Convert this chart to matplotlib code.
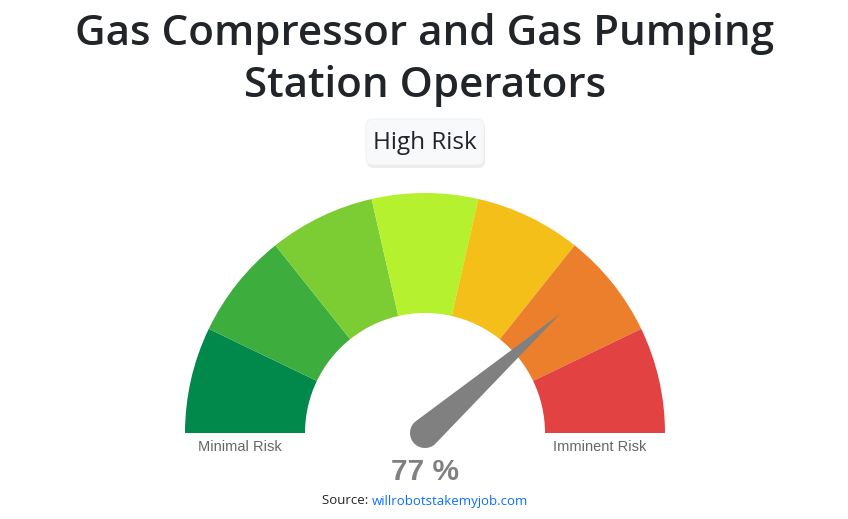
import numpy as np
import matplotlib.pyplot as plt
from matplotlib.patches import Wedge, Polygon, FancyBboxPatch

title = "Gas Compressor and Gas Pumping\nStation Operators"
badge = "High Risk"
value = 77
segment_colors = ['#00894a', '#3dae3d', '#7bcd33', '#b5f12e', '#f5bf19', '#ec7f2c', '#e34242']
end_labels = ['Minimal Risk', 'Imminent Risk']

W, H = 848, 519
fig = plt.figure(figsize=(W / 100, H / 100), dpi=100)
ax = fig.add_axes([0, 0, 1, 1])
ax.set_xlim(0, W)
ax.set_ylim(0, H)
ax.axis('off')

def Y(y):
    # image pixel row -> data y
    return H - y

cx, cy = 425, Y(433)
r_out, r_in = 240, 120

# gauge segments
n = len(segment_colors)
step = 180 / n
for i, c in enumerate(segment_colors):
    a2 = 180 - i * step
    a1 = a2 - step
    ax.add_patch(Wedge((cx, cy), r_out, a1, a2, width=r_out - r_in, facecolor=c, edgecolor='none'))

# needle
ang = np.radians(180 - value / 100 * 180)
length, base_r = 180, 15
tip = (cx + length * np.cos(ang), cy + length * np.sin(ang))
back = np.linspace(ang + np.pi / 2, ang + 3 * np.pi / 2, 30)
pts = [tip] + [(cx + base_r * np.cos(t), cy + base_r * np.sin(t)) for t in back]
ax.add_patch(Polygon(pts, closed=True, facecolor='#808080', edgecolor='none'))

# labels under gauge
ax.text(240, Y(447), end_labels[0], ha='center', va='center', fontsize=10.5,
        color='#666666', family='Liberation Sans')
ax.text(600, Y(447), end_labels[1], ha='center', va='center', fontsize=10.5,
        color='#666666', family='Liberation Sans')
ax.text(cx, Y(472), f'{value} %', ha='center', va='center', fontsize=21.5,
        fontweight='bold', color='#808080', family='Liberation Sans')

# title
ax.text(425, Y(60), title, ha='center', va='center', fontsize=30.3, fontweight='semibold',
        color='#212529', family='Open Sans', linespacing=1.33)

# badge
shadow = FancyBboxPatch((367, Y(168)), 118, 46, boxstyle='round,pad=0,rounding_size=7',
                        facecolor='#000000', alpha=0.07, edgecolor='none')
ax.add_patch(shadow)
box = FancyBboxPatch((366, Y(165)), 118, 46, boxstyle='round,pad=0,rounding_size=7',
                     facecolor='#f8f9fa', edgecolor='#eeeeee', linewidth=0.6)
ax.add_patch(box)
ax.text(425, Y(143), badge, ha='center', va='center', fontsize=17.5,
        color='#212529', family='Open Sans')

# source line
ax.text(372, Y(501), 'Source: ', ha='right', va='center', fontsize=9.5,
        color='#212529', family='Open Sans')
ax.text(372, Y(501), 'willrobotstakemyjob.com', ha='left', va='center', fontsize=9.5,
        color='#0d6efd', family='Open Sans')

fig.savefig('out.png', dpi=100)
